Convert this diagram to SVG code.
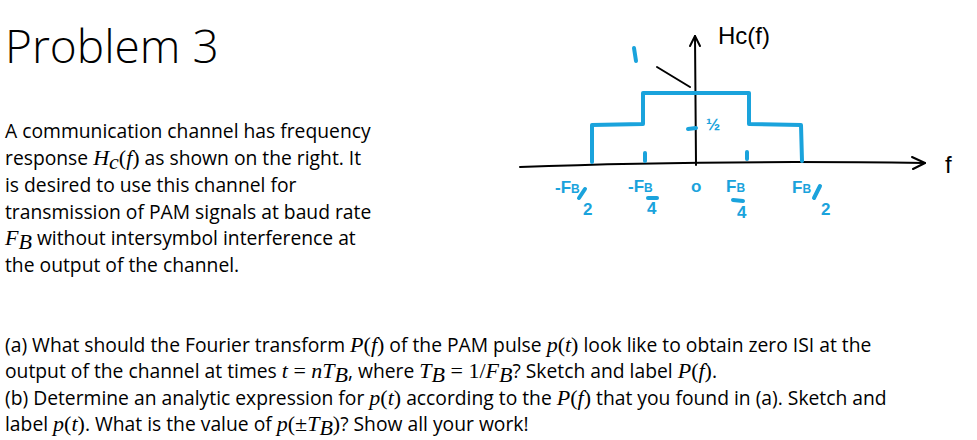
<svg xmlns="http://www.w3.org/2000/svg" width="977" height="440" viewBox="0 0 977 440">
<style>
.t{font-family:"Open Sans","Liberation Sans",sans-serif;font-size:19.3px;fill:#000}
.m{font-family:"Liberation Serif",serif;font-style:italic;font-size:22px}
.r{font-family:"Liberation Serif",serif;font-size:22px}
.b{stroke:#1aa3dc;stroke-width:4;fill:none;stroke-linecap:round;stroke-linejoin:round}
.k{stroke:#000;stroke-width:2;fill:none;stroke-linecap:round;stroke-linejoin:round}
.bl{font-family:"Liberation Sans",sans-serif;font-size:17px;font-weight:bold;fill:#1aa3dc}
.hw{font-family:"Liberation Sans",sans-serif;font-size:24px;fill:#000}
</style>
<rect width="977" height="440" fill="#fff"/>
<text x="5" y="63" font-family="Open Sans, sans-serif" font-size="46" font-weight="300">Problem 3</text>
<g class="t">
<text x="5" y="138">A communication channel has frequency</text>
<text x="5" y="165">response <tspan class="m">H</tspan><tspan class="m" font-size="15" dy="4">c</tspan><tspan class="r" dy="-4">(</tspan><tspan class="m">f</tspan><tspan class="r">)</tspan> as shown on the right. It</text>
<text x="5" y="192">is desired to use this channel for</text>
<text x="5" y="219">transmission of PAM signals at baud rate</text>
<text x="5" y="245"><tspan class="m">F</tspan><tspan class="m" font-size="15" dy="4">B</tspan><tspan dy="-4"> without intersymbol interference at</tspan></text>
<text x="5" y="272">the output of the channel.</text>
<text x="5" y="352">(a) What should the Fourier transform <tspan class="m">P</tspan><tspan class="r">(</tspan><tspan class="m">f</tspan><tspan class="r">)</tspan> of the PAM pulse <tspan class="m">p</tspan><tspan class="r">(</tspan><tspan class="m">t</tspan><tspan class="r">)</tspan> look like to obtain zero ISI at the</text>
<text x="5" y="378">output of the channel at times <tspan class="m">t</tspan><tspan class="r"> = </tspan><tspan class="m">nT</tspan><tspan class="m" font-size="15" dy="4">B</tspan><tspan dy="-4">, where </tspan><tspan class="m">T</tspan><tspan class="m" font-size="15" dy="4">B</tspan><tspan class="r" dy="-4"> = 1/</tspan><tspan class="m">F</tspan><tspan class="m" font-size="15" dy="4">B</tspan><tspan dy="-4">? Sketch and label </tspan><tspan class="m">P</tspan><tspan class="r">(</tspan><tspan class="m">f</tspan><tspan class="r">)</tspan>.</text>
<text x="5" y="405">(b) Determine an analytic expression for <tspan class="m">p</tspan><tspan class="r">(</tspan><tspan class="m">t</tspan><tspan class="r">)</tspan> according to the <tspan class="m">P</tspan><tspan class="r">(</tspan><tspan class="m">f</tspan><tspan class="r">)</tspan> that you found in (a). Sketch and</text>
<text x="5" y="431">label <tspan class="m">p</tspan><tspan class="r">(</tspan><tspan class="m">t</tspan><tspan class="r">)</tspan>. What is the value of <tspan class="m">p</tspan><tspan class="r">(±</tspan><tspan class="m">T</tspan><tspan class="m" font-size="15" dy="4">B</tspan><tspan class="r" dy="-4">)</tspan>? Show all your work!</text>
</g>
<g id="axes">
<path class="k" d="M520 167 Q700 160 925 163"/>
<path class="k" d="M912 157 L925 163 L913 169"/>
<path class="k" d="M696 165 L695 36"/>
<path class="k" d="M690 46 L695 36 L700 46"/>
<path class="k" d="M657 67 L690 87"/>
<path class="b" d="M634 48 L636 61" stroke-width="4"/>
<text class="hw" x="718" y="44">Hc(f)</text>
<text class="hw" x="945" y="173" font-size="28">f</text>
</g>
<g id="plot">
<path class="b" d="M592 162 L592 125 L643 124 L643 93 L749 93 L749 124 L801 125 L802 161"/>
<path class="b" d="M645 153 L645 161 M747 152 L747 159 M688 129 L696 128"/>
</g>
<g id="labels">
<text class="bl" x="706" y="130" font-size="13">½</text>
<text class="bl" x="555" y="193">-F<tspan font-size="12">B</tspan></text>
<path class="b" d="M579 198 L585 189" stroke-width="2.5"/>
<text class="bl" x="583" y="215">2</text>
<text class="bl" x="628" y="192">-F<tspan font-size="12">B</tspan></text>
<path class="b" d="M648 198 L657 198" stroke-width="2.5"/>
<text class="bl" x="647" y="214">4</text>
<text class="bl" x="691" y="192" fill="#000">o</text>
<text class="bl" x="726" y="192">F<tspan font-size="12">B</tspan></text>
<path class="b" d="M733 200 L743 201" stroke-width="2.5"/>
<text class="bl" x="737" y="218">4</text>
<text class="bl" x="792" y="193">F<tspan font-size="12">B</tspan></text>
<path class="b" d="M814 198 L820 186" stroke-width="2.5"/>
<text class="bl" x="821" y="215">2</text>
</g>
</svg>
